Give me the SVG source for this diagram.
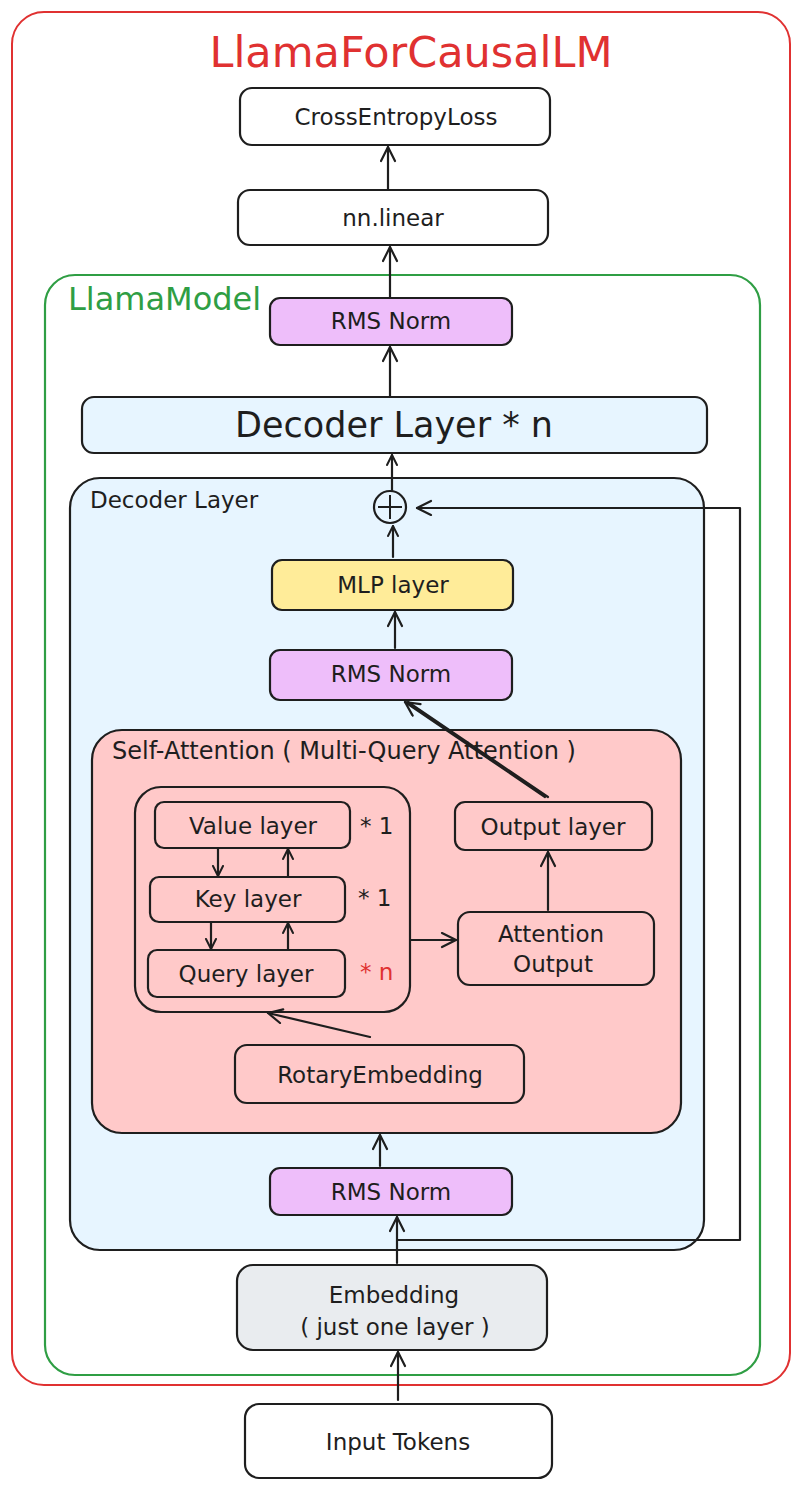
<svg xmlns="http://www.w3.org/2000/svg" width="800" height="1492" viewBox="0 0 800 1492">
<defs>
<style>
.box{stroke:#1e1e1e;stroke-width:2.2;}
.t{font-family:"DejaVu Sans","Liberation Sans",sans-serif;fill:#1e1e1e;text-anchor:middle;dominant-baseline:central;font-size:23px;}
.lbl{font-family:"DejaVu Sans","Liberation Sans",sans-serif;fill:#1e1e1e;dominant-baseline:central;font-size:23px;}
.c{fill:none;stroke:#1e1e1e;stroke-width:2.2;stroke-linecap:round;stroke-linejoin:round;}
</style>
<marker id="ah" markerUnits="userSpaceOnUse" markerWidth="20" markerHeight="20" refX="16" refY="8" orient="auto">
<path d="M2,1 L16,8 L2,15" fill="none" stroke="#1e1e1e" stroke-width="2.2" stroke-linecap="round" stroke-linejoin="round"/>
</marker>
<marker id="ahs" markerUnits="userSpaceOnUse" markerWidth="14" markerHeight="14" refX="11" refY="6" orient="auto">
<path d="M1,1 L11,6 L1,11" fill="none" stroke="#1e1e1e" stroke-width="2" stroke-linecap="round" stroke-linejoin="round"/>
</marker>
</defs>

<g id="llamaForCausalLM">
<rect x="12" y="12" width="778" height="1373" rx="32" fill="#ffffff" stroke="#e03131" stroke-width="2"/>
<text class="t" x="411" y="52" style="fill:#e03131;font-size:43px">LlamaForCausalLM</text>
</g>

<g id="crossEntropyLoss">
<rect class="box" x="240" y="88" width="310" height="57" rx="12" fill="#ffffff"/>
<text class="t" x="396" y="117">CrossEntropyLoss</text>
</g>

<g id="nnLinear">
<rect class="box" x="238" y="190" width="310" height="55" rx="12" fill="#ffffff"/>
<text class="t" x="393" y="218">nn.linear</text>
</g>

<g id="llamaModel">
<rect x="45" y="275" width="715" height="1100" rx="30" fill="#ffffff" stroke="#2f9e44" stroke-width="2.2"/>
<text class="lbl" x="68" y="299" style="fill:#2f9e44;font-size:32px">LlamaModel</text>
</g>

<g id="rmsNormTop">
<rect class="box" x="270" y="298" width="242" height="47" rx="10" fill="#eebefa"/>
<text class="t" x="391" y="321">RMS Norm</text>
</g>

<g id="decoderLayerN">
<rect class="box" x="82" y="397" width="625" height="56" rx="12" fill="#e7f5ff"/>
<text class="t" x="394" y="425" style="font-size:35px">Decoder Layer * n</text>
</g>

<g id="decoderLayer">
<rect class="box" x="70" y="478" width="634" height="772" rx="30" fill="#e7f5ff"/>
<text class="lbl" x="90" y="500">Decoder Layer</text>
</g>

<g id="add">
<circle class="box" cx="390" cy="507" r="16" fill="none"/>
<path d="M390,495 V519 M378,507 H402" stroke="#1e1e1e" stroke-width="2" fill="none"/>
</g>

<g id="mlpLayer">
<rect class="box" x="272" y="560" width="241" height="50" rx="10" fill="#ffec99"/>
<text class="t" x="393" y="585">MLP layer</text>
</g>

<g id="rmsNormMid">
<rect class="box" x="270" y="650" width="242" height="50" rx="10" fill="#eebefa"/>
<text class="t" x="391" y="674">RMS Norm</text>
</g>

<g id="selfAttention">
<rect class="box" x="92" y="730" width="589" height="403" rx="30" fill="#ffc9c9"/>
<text class="lbl" x="112" y="751" style="font-size:24px">Self-Attention ( Multi-Query Attention )</text>
</g>

<g id="qkvGroup">
<rect class="box" x="135" y="787" width="275" height="225" rx="26" fill="none"/>
</g>

<g id="valueLayer">
<rect class="box" x="155" y="802" width="195" height="46" rx="9" fill="none"/>
<text class="t" x="253" y="826">Value layer</text>
<text class="lbl" x="360" y="826">* 1</text>
</g>

<g id="keyLayer">
<rect class="box" x="150" y="877" width="195" height="45" rx="9" fill="none"/>
<text class="t" x="248" y="899">Key layer</text>
<text class="lbl" x="358" y="898">* 1</text>
</g>

<g id="queryLayer">
<rect class="box" x="148" y="950" width="197" height="47" rx="9" fill="none"/>
<text class="t" x="246" y="974">Query layer</text>
<text class="lbl" x="360" y="972" style="fill:#e03131">* n</text>
</g>

<g id="outputLayer">
<rect class="box" x="455" y="802" width="197" height="48" rx="10" fill="none"/>
<text class="t" x="553" y="827">Output layer</text>
</g>

<g id="attentionOutput">
<rect class="box" x="458" y="912" width="196" height="73" rx="12" fill="none"/>
<text class="t" x="551" y="934">Attention</text>
<text class="t" x="553" y="964">Output</text>
</g>

<g id="rotaryEmbedding">
<rect class="box" x="235" y="1045" width="289" height="58" rx="12" fill="none"/>
<text class="t" x="380" y="1075">RotaryEmbedding</text>
</g>

<g id="rmsNormBottom">
<rect class="box" x="270" y="1168" width="242" height="47" rx="10" fill="#eebefa"/>
<text class="t" x="391" y="1192">RMS Norm</text>
</g>

<g id="embedding">
<rect class="box" x="237" y="1265" width="310" height="85" rx="16" fill="#e9ecef"/>
<text class="t" x="394" y="1295">Embedding</text>
<text class="t" x="395" y="1327">( just one layer )</text>
</g>

<g id="inputTokens">
<rect class="box" x="245" y="1404" width="307" height="74" rx="14" fill="#ffffff"/>
<text class="t" x="398" y="1442">Input Tokens</text>
</g>

<g id="connectors">
<path class="c" d="M388,189 V147" marker-end="url(#ah)"/>
<path class="c" d="M390,297 V247" marker-end="url(#ah)"/>
<path class="c" d="M390,396 V347" marker-end="url(#ah)"/>
<path class="c" d="M392,490 V455" marker-end="url(#ahs)"/>
<path class="c" d="M393,557 V526" marker-end="url(#ahs)"/>
<path class="c" d="M395,648 V612" marker-end="url(#ah)"/>
<path class="c" d="M545,797 L405,702" marker-end="url(#ah)"/>
<path class="c" d="M548,797 L408,702" stroke-width="1.5"/>
<path class="c" d="M218,849 V876" marker-end="url(#ahs)"/>
<path class="c" d="M288,876 V849" marker-end="url(#ahs)"/>
<path class="c" d="M211,923 V949" marker-end="url(#ahs)"/>
<path class="c" d="M288,949 V923" marker-end="url(#ahs)"/>
<path class="c" d="M411,940 H456" marker-end="url(#ah)"/>
<path class="c" d="M548,910 V852" marker-end="url(#ah)"/>
<path class="c" d="M370,1037 L268,1013" marker-end="url(#ah)"/>
<path class="c" d="M380,1166 V1135" marker-end="url(#ah)"/>
<path class="c" d="M397,1263 V1217" marker-end="url(#ah)"/>
<path class="c" d="M398,1400 V1352" marker-end="url(#ah)"/>
<path class="c" d="M398,1240 H740 V508 H417" stroke-width="3" marker-end="url(#ah)"/>
</g>
</svg>
